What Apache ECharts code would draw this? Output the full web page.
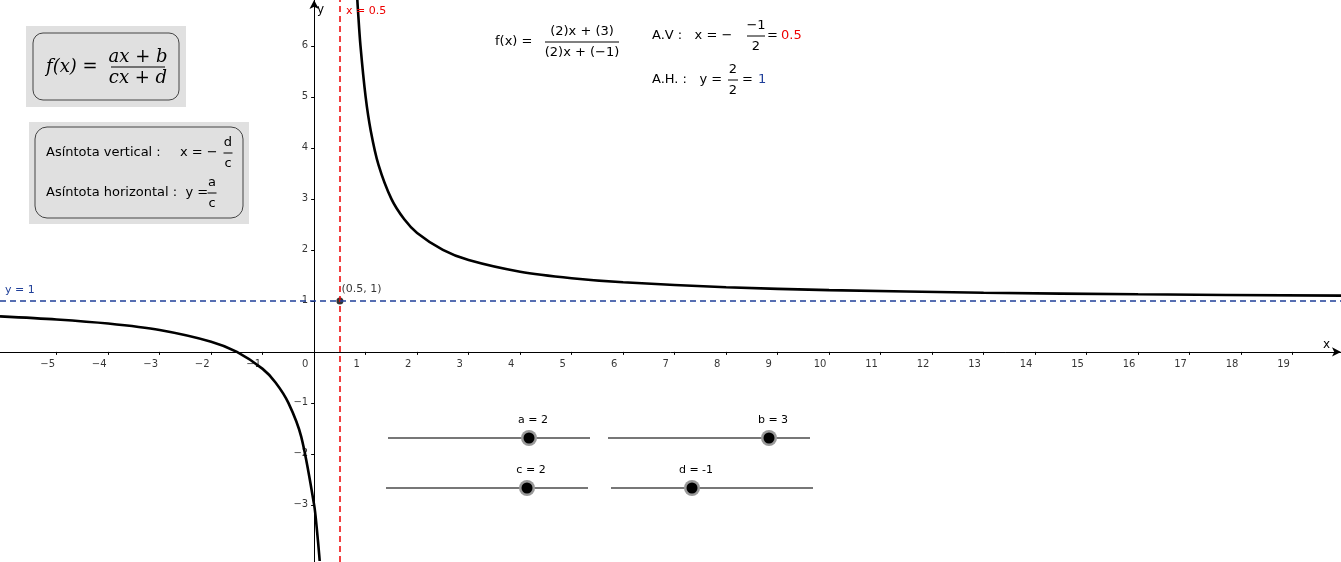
<!DOCTYPE html>
<html><head><meta charset="utf-8">
<script src="https://cdn.jsdelivr.net/npm/echarts@6/dist/echarts.min.js"></script>
<style>html,body{margin:0;padding:0;background:#fff}#c{width:1341px;height:562px}</style>
</head><body><div id="c"></div>
<script>
var leftX  = [-6.1, -5, -4, -3, -2, -1.5, -1, -0.75, -0.5, -0.25, 0, 0.05, 0.1, 0.108];
var leftY  = [0.697, 0.636, 0.556, 0.429, 0.2, 0, -0.333, -0.6, -1, -1.667, -3, -3.444, -4, -4.1];
var rightX = [0.839, 0.85, 0.9, 1, 1.1, 1.25, 1.5, 1.75, 2, 2.5, 3, 4, 5, 6, 8, 10, 13, 16, 19.94];
var rightY = [6.9, 6.714, 6, 5, 4.333, 3.667, 3, 2.6, 2.333, 2, 1.8, 1.571, 1.444, 1.364, 1.267, 1.211, 1.16, 1.129, 1.103];
var xTicks = [-5,-4,-3,-2,-1,0,1,2,3,4,5,6,7,8,9,10,11,12,13,14,15,16,17,18,19];
var yTicks = [-3,-2,-1,1,2,3,4,5,6];
var av = 0.5, ah = 1;

function pairs(xs, ys){ return xs.map(function(x,i){ return [x, ys[i]]; }); }
function fmt(v){ return v<0 ? '−'+(-v) : ''+v; }

var F = 'DejaVu Sans, sans-serif';
function t(x, y, s, o){ o = o||{}; return {type:'text', x:x, y:y, z:10,
  style:{text:s, font:(o.style||'')+' '+(o.size||13)+'px '+(o.family||F), fill:o.color||'#000', align:o.align||'left', verticalAlign:'middle'}}; }
function ln(x1,y1,x2,y2,c,w){ return {type:'line', z:10, shape:{x1:x1,y1:y1,x2:x2,y2:y2}, style:{stroke:c||'#000', lineWidth:w||1}}; }
function frac(cx, yl, num, den, w, o){ return [t(cx, yl-10, num, Object.assign({align:'center'},o)), t(cx, yl+11, den, Object.assign({align:'center'},o)), ln(cx-w/2, yl, cx+w/2, yl)]; }
function slider(x1, x2, y, k, lbl){ return [ln(x1,y,x2,y,'#777',2),
  {type:'circle', z:11, shape:{cx:k, cy:y, r:8}, style:{fill:'#999'}},
  {type:'circle', z:12, shape:{cx:k, cy:y, r:5.5}, style:{fill:'#000'}},
  t(k+4, y-18, lbl, {size:11, align:'center'})]; }

var serif = 'DejaVu Serif, serif';
var g = [
  {type:'rect', z:5, shape:{x:26, y:26, width:160, height:81}, style:{fill:'#e0e0e0'}},
  {type:'rect', z:6, shape:{x:33, y:33, width:146, height:67, r:10}, style:{fill:'#e0e0e0', stroke:'#444', lineWidth:1}},
  t(46, 67, 'f(x) =', {size:18, family:serif, style:'italic'}),
  {type:'rect', z:5, shape:{x:29, y:122, width:220, height:102}, style:{fill:'#e0e0e0'}},
  {type:'rect', z:6, shape:{x:35, y:127, width:208, height:91, r:12}, style:{fill:'#e0e0e0', stroke:'#444', lineWidth:1}},
  t(46, 153, 'Asíntota vertical :'), t(180, 153, 'x = −'),
  t(46, 193, 'Asíntota horizontal :  y ='),
  t(495, 42, 'f(x) ='),
  t(652, 36, 'A.V :   x = −'), t(767, 36, '='), t(781, 36, '0.5', {color:'#e00'}),
  t(652, 80, 'A.H. :   y ='), t(742, 80, '='), t(758, 80, '1', {color:'#1f3f99'}),
  t(346, 11, 'x = 0.5', {size:11, color:'#e00'}),
  t(5, 290, 'y = 1', {size:11, color:'#1f3f99'}),
  t(1323, 345, 'x', {size:12}), t(317, 10, 'y', {size:12})
];
g = g.concat(frac(138, 67, 'ax + b', 'cx + d', 54, {size:18, family:serif, style:'italic'}));
g = g.concat(frac(228, 153, 'd', 'c', 9), frac(212, 193, 'a', 'c', 9));
g = g.concat(frac(582, 42, '(2)x + (3)', '(2)x + (−1)', 74), frac(756, 36, '−1', '2', 18), frac(733, 80, '2', '2', 10));
g = g.concat(slider(388,590,438,529,'a = 2'), slider(608,810,438,769,'b = 3'),
             slider(386,588,488,527,'c = 2'), slider(611,813,488,692,'d = -1'));

var tickLbl = {color:'#000', fontSize:10, fontFamily:F};
var chart = echarts.init(document.getElementById('c'));
chart.setOption({
  animation:false,
  grid:{left:0, right:0, top:0, bottom:0, outerBoundsMode:'none', containLabel:false},
  xAxis:{type:'value', min:-6.1, max:19.94, splitLine:{show:false},
    axisLine:{onZero:true, lineStyle:{color:'#000'}, symbol:['none','arrow'], symbolSize:[7,9]},
    axisTick:{customValues:xTicks, length:3, lineStyle:{color:'#000'}},
    axisLabel:{show:false}},
  yAxis:{type:'value', min:-4.12, max:6.9, splitLine:{show:false},
    axisLine:{onZero:true, lineStyle:{color:'#000'}, symbol:['none','arrow'], symbolSize:[7,9]},
    axisTick:{customValues:yTicks, length:3, lineStyle:{color:'#000'}},
    axisLabel:{show:false}},
  series:[
    {type:'line', data:pairs(leftX,leftY), smooth:0.3, showSymbol:false, lineStyle:{color:'#000', width:2.6}},
    {type:'line', data:pairs(rightX,rightY), smooth:0.3, showSymbol:false, lineStyle:{color:'#000', width:2.6},
      markLine:{symbol:'none', silent:true, label:{show:false},
        data:[{xAxis:av, lineStyle:{color:'#e00', type:[6,4], width:1.5}},
              {yAxis:ah, lineStyle:{color:'#1f3f99', type:[6,4], width:1.5}}]}},
    {type:'scatter', data:[[av,ah]], symbolSize:7, itemStyle:{color:'#000'},
      label:{show:true, position:[5,-14], formatter:'(0.5, 1)', color:'#000', fontSize:11, fontFamily:F}},
    {type:'scatter', data:xTicks.map(function(v){ return [v,0]; }), symbolSize:0, silent:true,
      label:Object.assign({show:true, position:[-9,8], align:'center', formatter:function(p){ return fmt(p.value[0]); }}, tickLbl)},
    {type:'scatter', data:yTicks.map(function(v){ return [0,v]; }), symbolSize:0, silent:true,
      label:Object.assign({show:true, position:[-6,0], align:'right', verticalAlign:'middle', formatter:function(p){ return fmt(p.value[1]); }}, tickLbl)}
  ],
  graphic:g
});
</script></body></html>
